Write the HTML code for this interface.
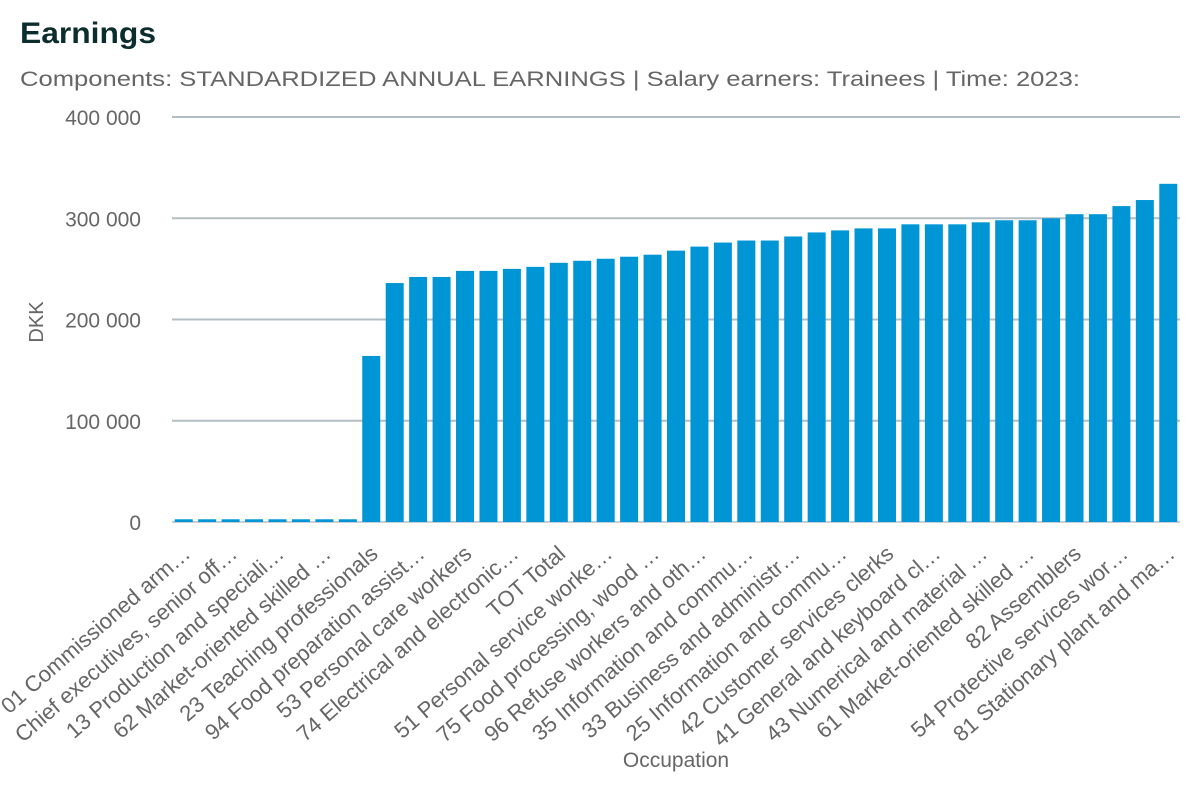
<!DOCTYPE html>
<html><head><meta charset="utf-8">
<style>
body{margin:0;background:#fff;width:1200px;height:800px;overflow:hidden;font-family:"Liberation Sans",Arial,sans-serif}
</style></head>
<body>
<svg id="chart" width="1200" height="800" xmlns="http://www.w3.org/2000/svg" font-family="Liberation Sans, Arial, sans-serif">
<text x="20" y="43" font-size="30" font-weight="bold" fill="#0c2d2d" textLength="136" lengthAdjust="spacingAndGlyphs">Earnings</text>
<text x="20" y="86" font-size="21" fill="#666" textLength="1060" lengthAdjust="spacingAndGlyphs">Components: STANDARDIZED ANNUAL EARNINGS | Salary earners: Trainees | Time: 2023:</text>
<g id="grid"></g>
<g id="yticks"></g>
<g id="bars"></g>
<g id="xlabels"></g>
<text x="0" y="0" transform="translate(43,322) rotate(-90)" text-anchor="middle" font-size="20" fill="#666">DKK</text>
<text x="676" y="767" text-anchor="middle" font-size="21" fill="#666">Occupation</text>
</svg>
<script>
const categories = ["01 Commissioned arm…","02","Chief executives, senior off…","04","13 Production and speciali…","06","62 Market-oriented skilled …","08","23 Teaching professionals","10","94 Food preparation assist…","12","53 Personal care workers","14","74 Electrical and electronic…","16","TOT Total","18","51 Personal service worke…","20","75 Food processing, wood …","22","96 Refuse workers and oth…","24","35 Information and commu…","26","33 Business and administr…","28","25 Information and commu…","30","42 Customer services clerks","32","41 General and keyboard cl…","34","43 Numerical and material …","36","61 Market-oriented skilled …","38","82 Assemblers","40","54 Protective services wor…","42","81 Stationary plant and ma…"];
const values = [2700,2700,2700,2700,2700,2700,2700,2700,164000,236000,242000,242000,248000,248000,250000,252000,256000,258000,260000,262000,264000,268000,272000,276000,278000,278000,282000,286000,288000,290000,290000,294000,294000,294000,296000,298000,298000,300000,304000,304000,312000,318000,334000];
const yTicks = [0,100000,200000,300000,400000];
const yTickLabels = ["0","100 000","200 000","300 000","400 000"];
const NS="http://www.w3.org/2000/svg";
const L=172,R=1180,Y0=522,Y1=117,YMAX=400000;
const band=(R-L)/values.length, bw=18;
function y(v){return Y0-(v/YMAX)*(Y0-Y1);}
function x(i){return L+i*band;}
function mk(t,a,p){const e=document.createElementNS(NS,t);for(const k in a)e.setAttribute(k,a[k]);p.appendChild(e);return e;}
const grid=document.getElementById('grid'),yt=document.getElementById('yticks'),bars=document.getElementById('bars'),xl=document.getElementById('xlabels');
yTicks.forEach((v,i)=>{
  const l=mk('line',{x1:L,x2:R,y1:y(v),y2:y(v),stroke:i===0?'#c5d0d6':'#b3bec4','stroke-width':2},grid);
  
  
  const t=mk('text',{x:141,y:y(v)+8,'text-anchor':'end','font-size':21,fill:'#666'},yt);
  t.textContent=yTickLabels[i];
  
  
});
values.forEach((v,i)=>{
  const r=mk('rect',{x:x(i)+(band-bw)/2,y:y(v),width:bw,height:Y0-y(v),fill:'#0096d6'},bars);
  
  
  if(i%2===0){
    const cx=x(i)+band/2+3, cy=550;
    const t=mk('text',{x:cx,y:cy,dy:'0.35em','text-anchor':'end','font-size':22,fill:'#666',transform:`rotate(-41 ${cx} ${cy})`},xl);
    t.textContent=categories[i];
    
    
  }
});
</script>
</body></html>
